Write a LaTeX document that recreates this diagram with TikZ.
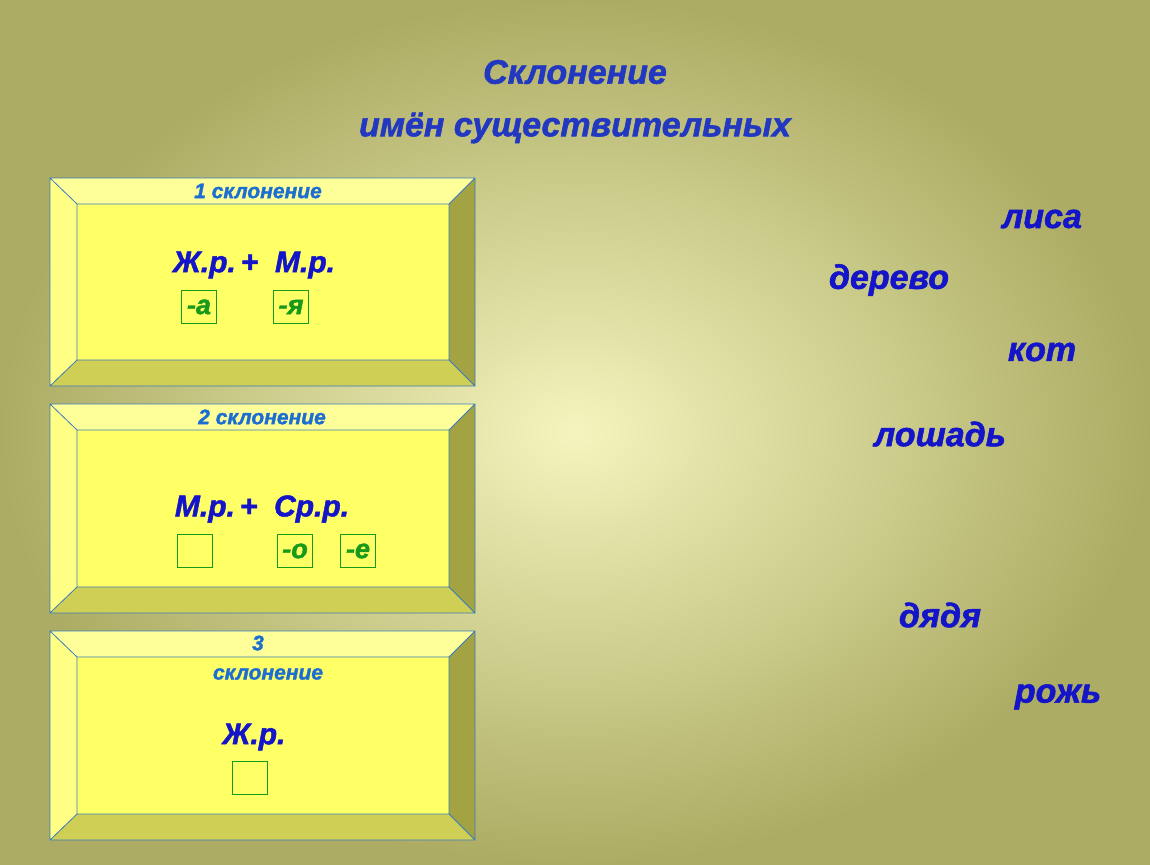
\documentclass[tikz,border=0pt]{standalone}
\usepackage{fontspec}
\setmainfont{Liberation Sans}[BoldItalicFeatures={FakeBold=1.6}]
\usetikzlibrary{positioning}
\definecolor{bgin}{HTML}{F4F4BE}
\definecolor{bgout}{HTML}{ACAC64}
\definecolor{faceY}{HTML}{FFFF66}
\definecolor{topY}{HTML}{FFFF99}
\definecolor{leftY}{HTML}{FFFF85}
\definecolor{botY}{HTML}{CFCF55}
\definecolor{rightY}{HTML}{A3A343}
\definecolor{edgeB}{HTML}{3A7CC0}
\definecolor{subB}{HTML}{1C6ED2}
\definecolor{wordB}{HTML}{1414C8}
\definecolor{titleB}{HTML}{2238C0}
\definecolor{endG}{HTML}{17991A}
% bevelled panel: outer top-left, outer bottom-right
\newcommand\bevelpanel[4]{%
  \fill[topY] (#1,#2) -- (#3,#2) -- (#3-26,#2+26) -- (#1+27,#2+26) -- cycle;
  \fill[leftY] (#1,#2) -- (#1+27,#2+26) -- (#1+27,#4-26) -- (#1,#4) -- cycle;
  \fill[botY] (#1,#4) -- (#1+27,#4-26) -- (#3-26,#4-26) -- (#3,#4) -- cycle;
  \fill[rightY] (#3,#2) -- (#3-26,#2+26) -- (#3-26,#4-26) -- (#3,#4) -- cycle;
  \fill[faceY] (#1+27,#2+26) rectangle (#3-26,#4-26);
  \draw[edgeB, line width=0.8pt] (#1,#2) rectangle (#3,#4)
    (#1+27,#2+26) rectangle (#3-26,#4-26)
    (#1,#2) -- (#1+27,#2+26) (#3,#2) -- (#3-26,#2+26)
    (#1,#4) -- (#1+27,#4-26) (#3,#4) -- (#3-26,#4-26);}
\begin{document}
\begin{tikzpicture}[x=1pt, y=-1pt,
  every node/.style={font=\bfseries\itshape},
  title/.style={text=titleB, font=\fontsize{34}{38}\selectfont\bfseries\itshape},
  word/.style={text=wordB, font=\fontsize{34}{38}\selectfont\bfseries\itshape},
  sub/.style={text=subB, font=\fontsize{21}{23}\selectfont\bfseries\itshape},
  gender/.style={text=wordB, font=\fontsize{30}{34}\selectfont\bfseries\itshape},
  ending/.style={draw=endG, line width=0.7pt, text=endG, minimum width=35, minimum height=33,
    inner sep=0pt, font=\fontsize{27}{29}\selectfont\bfseries\itshape}]
  \shade[inner color=bgin, outer color=bgout] (0,0) rectangle (1150,864);
  \useasboundingbox (0,0) rectangle (1150,864);

  \node[title] (t1) at (575,72) {Склонение};
  \node[title] (t2) at (575,128) {имён существительных};

  \bevelpanel{50}{178}{475}{386}
  \bevelpanel{50}{404}{475}{613}
  \bevelpanel{50}{631}{475}{840}

  \node[sub] (s1) at (258,191) {1 склонение};
  \node[gender] (g1) at (254,265) {Ж.р.\,+\ \ М.р.};
  \node[ending] (e1a) at (199,307) {-а};
  \node[ending] (e1b) at (291,307) {-я};

  \node[sub] (s2) at (262,417) {2 склонение};
  \node[gender] (g2) at (262,509) {М.р.\,+\ \ Ср.р.};
  \node[ending] (e2z) at (195,551) {};
  \node[ending] (e2o) at (295,551) {-о};
  \node[ending] (e2e) at (358,551) {-е};

  \node[sub] (s3a) at (258,643) {3};
  \node[sub] (s3b) at (268,674) {склонение};
  \node[gender] (g3) at (254,737) {Ж.р.};
  \node[ending] (e3z) at (250,778) {};

  \node[word] (w1) at (1042,219) {лиса};
  \node[word] (w2) at (889,280) {дерево};
  \node[word] (w3) at (1042,352) {кот};
  \node[word] (w4) at (940,434) {лошадь};
  \node[word] (w5) at (940,615) {дядя};
  \node[word] (w6) at (1058,697) {рожь};
\end{tikzpicture}
\end{document}
